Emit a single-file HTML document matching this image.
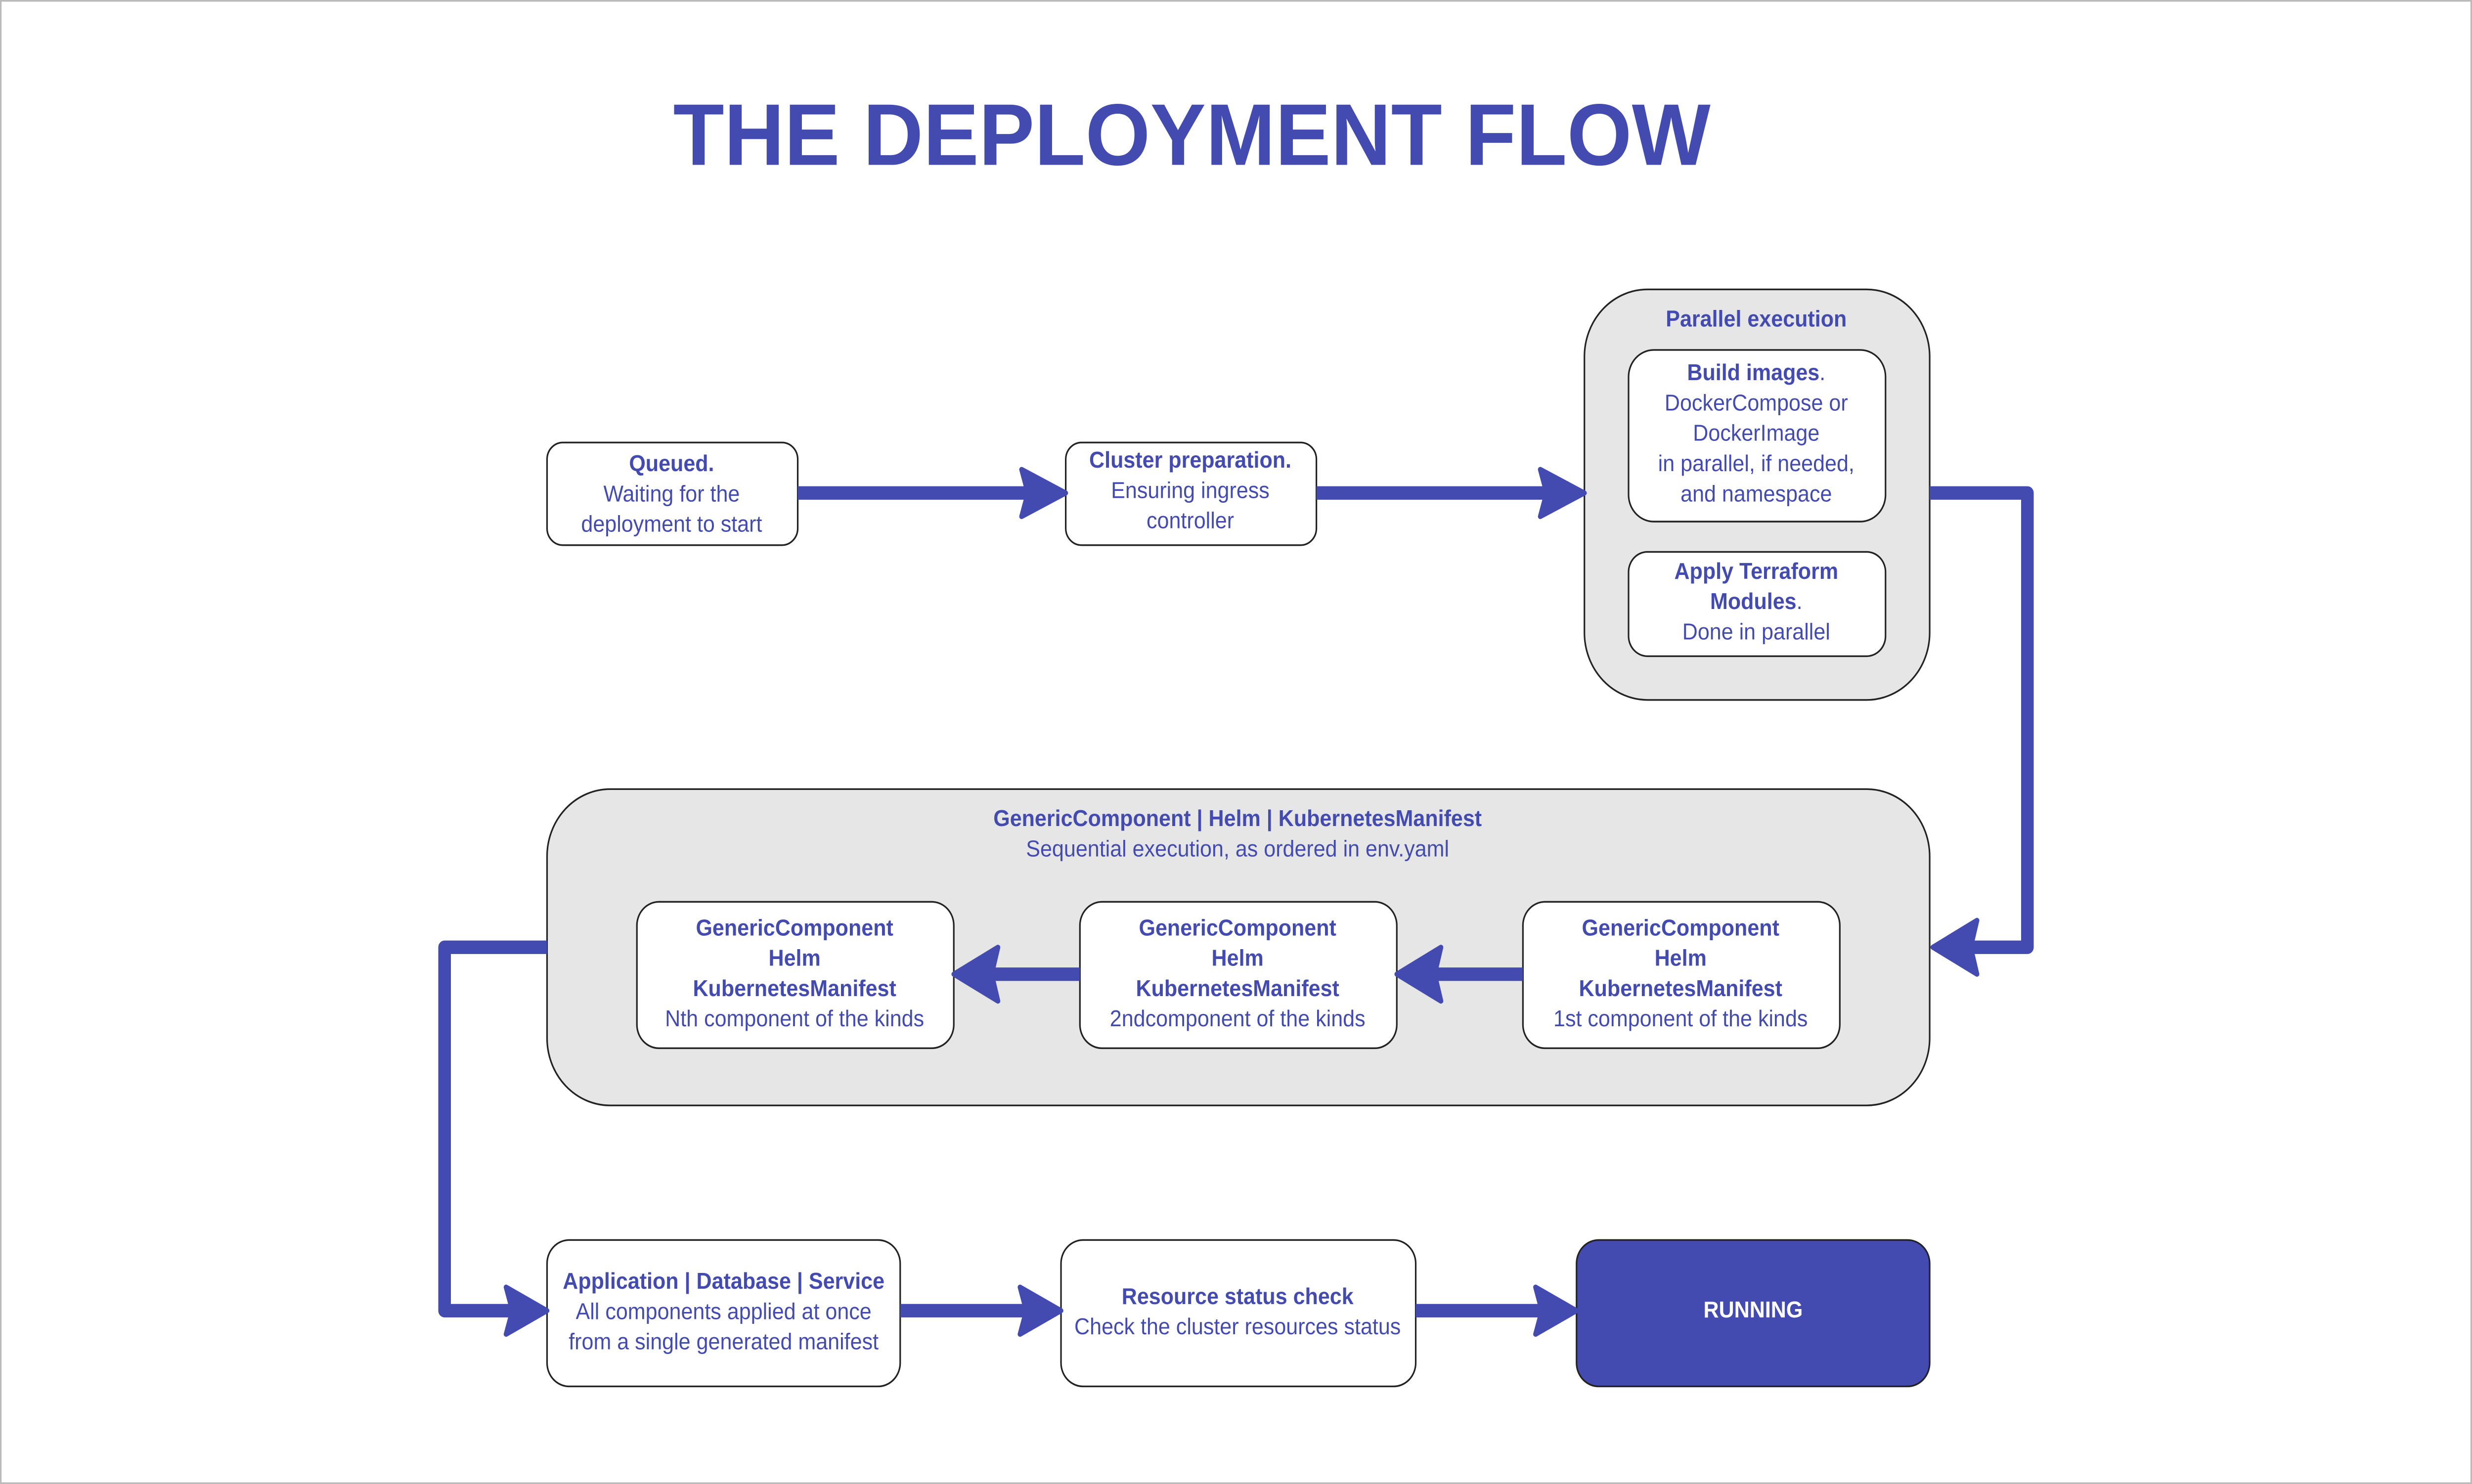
<!DOCTYPE html>
<html><head><meta charset="utf-8"><style>
html,body{margin:0;padding:0;background:#fff;overflow:hidden;width:100vw;height:100vh}
svg{display:block;width:100vw;height:100vh}
text{font-family:"Liberation Sans",sans-serif;fill:#434bb0;font-size:13.5px;text-anchor:middle}
.b{font-weight:bold}
</style></head><body>
<svg viewBox="0 0 1568 882" preserveAspectRatio="none" xmlns="http://www.w3.org/2000/svg">
<rect x="0.5" y="0.5" width="1567" height="881" fill="#fff" stroke="#bbb" stroke-width="1"/>
<text x="756" y="98" class="b" style="font-size:52px" textLength="658" lengthAdjust="spacingAndGlyphs">THE DEPLOYMENT FLOW</text>

<g stroke="#222" stroke-width="1">
<rect x="1005" y="172" width="219" height="244" rx="40" fill="#e6e6e6"/>
<rect x="347" y="469" width="877" height="188" rx="40" fill="#e6e6e6"/>
<rect x="347" y="263" width="159" height="61" rx="10" fill="#fff"/>
<rect x="676" y="263" width="159" height="61" rx="10" fill="#fff"/>
<rect x="1033" y="208" width="163" height="102" rx="16" fill="#fff"/>
<rect x="1033" y="328" width="163" height="62" rx="12" fill="#fff"/>
<rect x="404" y="536" width="201" height="87" rx="14" fill="#fff"/>
<rect x="685" y="536" width="201" height="87" rx="14" fill="#fff"/>
<rect x="966" y="536" width="201" height="87" rx="14" fill="#fff"/>
<rect x="347" y="737" width="224" height="87" rx="14" fill="#fff"/>
<rect x="673" y="737" width="225" height="87" rx="14" fill="#fff"/>
<rect x="1000" y="737" width="224" height="87" rx="14" fill="#434bb0"/>
</g>

<g stroke="#434bb0" stroke-width="8" fill="none" stroke-linejoin="round">
<line x1="506" y1="293" x2="654" y2="293"/>
<line x1="835" y1="293" x2="983" y2="293"/>
<polyline points="1224,293 1286,293 1286,563 1248,563"/>
<line x1="966" y1="579" x2="908" y2="579"/>
<line x1="685" y1="579" x2="627" y2="579"/>
<polyline points="347,563 282,563 282,779 325,779"/>
<line x1="571" y1="779" x2="651" y2="779"/>
<line x1="898" y1="779" x2="978" y2="779"/>
</g>
<g fill="#434bb0" stroke="#434bb0" stroke-width="3" stroke-linejoin="round">
<polygon points="676,293 648,279 652,293 648,307"/>
<polygon points="1005,293 977,279 981,293 977,307"/>
<polygon points="1226,563 1254,547 1250,563 1254,579"/>
<polygon points="886,579 914,563 910,579 914,595"/>
<polygon points="605,579 633,563 629,579 633,595"/>
<polygon points="347,779 321,765 325,779 321,793"/>
<polygon points="673,779 647,765 651,779 647,793"/>
<polygon points="1000,779 974,765 978,779 974,793"/>
</g>

<text x="426" y="280" class="b">Queued.</text>
<text x="426" y="298">Waiting for the</text>
<text x="426" y="316">deployment to start</text>

<text x="755" y="278" class="b">Cluster preparation.</text>
<text x="755" y="296">Ensuring ingress</text>
<text x="755" y="314">controller</text>

<text x="1114" y="194" class="b">Parallel execution</text>
<text x="1114" y="226"><tspan class="b">Build images</tspan>.</text>
<text x="1114" y="244">DockerCompose or</text>
<text x="1114" y="262">DockerImage</text>
<text x="1114" y="280">in parallel, if needed,</text>
<text x="1114" y="298">and namespace</text>
<text x="1114" y="344" class="b">Apply Terraform</text>
<text x="1114" y="362"><tspan class="b">Modules</tspan>.</text>
<text x="1114" y="380">Done in parallel</text>

<text x="785" y="491" class="b">GenericComponent | Helm | KubernetesManifest</text>
<text x="785" y="509">Sequential execution, as ordered in env.yaml</text>

<text x="504" y="556" class="b">GenericComponent</text>
<text x="504" y="574" class="b">Helm</text>
<text x="504" y="592" class="b">KubernetesManifest</text>
<text x="504" y="610">Nth component of the kinds</text>

<text x="785" y="556" class="b">GenericComponent</text>
<text x="785" y="574" class="b">Helm</text>
<text x="785" y="592" class="b">KubernetesManifest</text>
<text x="785" y="610">2ndcomponent of the kinds</text>

<text x="1066" y="556" class="b">GenericComponent</text>
<text x="1066" y="574" class="b">Helm</text>
<text x="1066" y="592" class="b">KubernetesManifest</text>
<text x="1066" y="610">1st component of the kinds</text>

<text x="459" y="766" class="b">Application | Database | Service</text>
<text x="459" y="784">All components applied at once</text>
<text x="459" y="802">from a single generated manifest</text>

<text x="785" y="775" class="b">Resource status check</text>
<text x="785" y="793">Check the cluster resources status</text>

<text x="1112" y="783" class="b" style="fill:#fff">RUNNING</text>
</svg>
</body></html>
